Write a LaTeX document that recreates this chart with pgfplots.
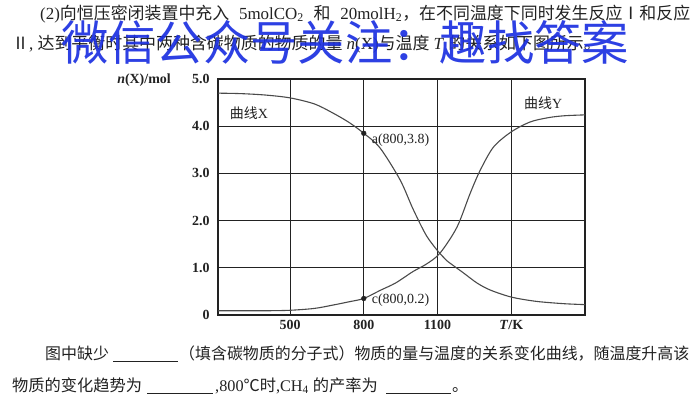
\documentclass[border=0pt]{standalone}
\usepackage{pgfplots}
\pgfplotsset{compat=1.18}
\usepackage{fontspec}
\setmainfont{Liberation Serif}
\newfontfamily\cjk{Noto Sans CJK SC}
\definecolor{ink}{HTML}{222222}
\definecolor{curve}{HTML}{4A4A4A}
\definecolor{wm}{RGB}{28,48,225}

\begin{document}
\begin{tikzpicture}[x=1bp,y=1bp]
\fill[white] (0,0) rectangle (700,401);
\path[use as bounding box] (0,0) rectangle (700,401);

% question text above the chart
\node[anchor=base west, inner sep=0, text=ink, font=\fontsize{17}{17}\selectfont] at (40,382)
  {\hbox to 650bp{(2){\cjk 向恒压密闭装置中充入}\hfil 5molCO\textsubscript{2}\hfil{\cjk 和}\hfil 20molH\textsubscript{2}{\cjk ，在不同温度下同时发生反应Ⅰ和反应}}};
\node[anchor=base west, inner sep=0, text=ink, font=\fontsize{17}{17}\selectfont] at (12,352)
  {{\cjk Ⅱ}, {\cjk 达到平衡时其中两种含碳物质的物质的量} \textit{n}(X){\cjk 与温度} \textit{T} {\cjk 的关系如下图所示。}};

\begin{axis}[
  at={(218bp,86bp)}, anchor=south west,
  scale only axis, width=367bp, height=236bp,
  xmin=207, xmax=1700, ymin=0, ymax=5,
  xtick={500,800,1100,1400}, xticklabels={500,800,1100,\textit{T}/K},
  ytick={0,1,2,3,4,5}, yticklabels={0,1.0,2.0,3.0,4.0,5.0},
  grid=major, major grid style={ink, line width=0.8pt},
  axis line style={ink, line width=1.1pt},
  tick style={draw=none},
  ticklabel style={font=\bfseries\fontsize{14}{14}\selectfont, text=ink},
  /pgf/number format/assume math mode=true,
  xticklabel style={yshift=-1.5bp},
  yticklabel style={xshift=-5bp},
  clip=false
]
% curve X
\addplot[curve, line width=1.1pt, smooth] coordinates {
  (207,4.70) (300,4.69) (400,4.66) (500,4.60) (600,4.47) (674,4.28)
  (740,4.08) (800,3.85) (866,3.54) (948,2.86) (1000,2.25) (1055,1.68)
  (1110,1.30) (1138,1.15) (1206,0.89) (1260,0.68) (1314,0.53) (1400,0.38)
  (1500,0.29) (1613,0.24) (1700,0.22)};
% curve Y
\addplot[curve, line width=1.1pt, smooth] coordinates {
  (207,0.09) (300,0.09) (400,0.09) (500,0.10) (600,0.14) (674,0.21)
  (740,0.28) (800,0.35) (866,0.52) (930,0.68) (1000,0.92) (1055,1.08)
  (1110,1.31) (1179,1.86) (1233,2.58) (1274,3.07) (1328,3.56) (1400,3.88)
  (1477,4.09) (1550,4.18) (1613,4.22) (1700,4.24)};
\addplot[only marks, mark=*, mark size=2.4pt, ink] coordinates {(800,3.85) (800,0.35)};

\node[anchor=west, inner sep=0, text=ink, font=\fontsize{14}{14}\selectfont] at (axis cs:832,3.71) {a(800,3.8)};
\node[anchor=west, inner sep=0, text=ink, font=\fontsize{14}{14}\selectfont] at (axis cs:832,0.32) {c(800,0.2)};
\node[text=ink, font=\fontsize{14}{14}\selectfont] at (axis cs:333,4.28) {{\cjk 曲线}X};
\node[text=ink, font=\fontsize{14}{14}\selectfont] at (axis cs:1530,4.49) {{\cjk 曲线}Y};
\end{axis}

\node[text=ink, font=\bfseries\fontsize{14}{14}\selectfont] at (144,321) {\textit{n}(X)/mol};

% question text below the chart
\node[anchor=base west, inner sep=0, text=ink, font=\cjk\fontsize{16}{16}\selectfont] at (45,42) {图中缺少};
\draw[ink, line width=0.6pt] (113,40) -- (178,40);
\node[anchor=base west, inner sep=0, text=ink, font=\cjk\fontsize{16}{16}\selectfont] at (179,42)
  {（填含碳物质的分子式）物质的量与温度的关系变化曲线，随温度升高该};
\node[anchor=base west, inner sep=0, text=ink, font=\cjk\fontsize{16.3}{16.3}\selectfont] at (12,10) {物质的变化趋势为};
\draw[ink, line width=0.6pt] (147,8) -- (213,8);
\node[anchor=base west, inner sep=0, text=ink, font=\fontsize{16.3}{16.3}\selectfont] at (215,10)
  {,800{\cjk ℃时},CH\textsubscript{4} {\cjk 的产率为}};
\draw[ink, line width=0.6pt] (386,8) -- (451,8);
\node[anchor=base west, inner sep=0, text=ink, font=\cjk\fontsize{16.3}{16.3}\selectfont] at (452,10) {。};

% watermark over the text
\node[anchor=west, inner sep=0, text=wm, opacity=0.92, font=\cjk\fontsize{47.5}{47.5}\selectfont] at (61,359) {微信公众号关注：趣找答案};
\end{tikzpicture}
\end{document}
